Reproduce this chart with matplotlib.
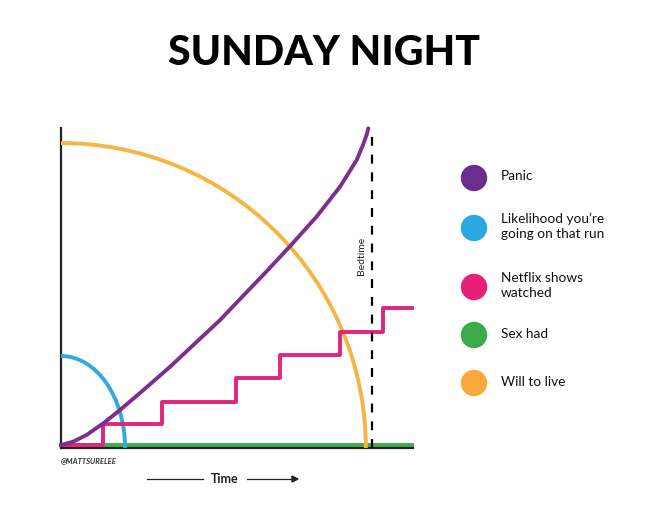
import numpy as np
import matplotlib
matplotlib.use("Agg")
import matplotlib.pyplot as plt
from matplotlib.patches import Arc, Ellipse

plt.rcParams['font.family'] = ['Lato', 'DejaVu Sans']

# dados (tempo 0..100, nivel 0..100)
panic_x = [0, 3.5, 7.3, 12.0, 16.8, 23.4, 31.0, 37.6, 45.2, 49.0, 58.4, 65.1, 72.6,
           79.3, 84.0, 85.8, 86.9, 87.3]
panic_y = [0.9, 2.0, 4.1, 7.7, 11.9, 18.1, 25.4, 32.2, 40.0, 44.4, 55.2, 63.1, 72.3,
           81.7, 90.0, 94.7, 98.1, 99.9]

netflix_x = [0, 11.8, 28.6, 49.7, 62.2, 79.3, 91.6, 99.6]
netflix_y = [0.9, 7.5, 14.5, 21.8, 29.0, 36.3, 43.7, 43.7]

sex_x = [0, 99.6]
sex_y = [0.9, 0.9]

# quartos de elipse: raio no tempo, raio no nivel
run_radius = (18.2, 28.75)
will_radius = (86.6, 95.3)

bedtime = 88.4

labels = ["Panic", "Likelihood you\u2019re\ngoing on that run", "Netflix shows\nwatched",
          "Sex had", "Will to live"]
line_colors = ["#7D2E8E", "#35A9DB", "#E0267D", "#3DAE4B", "#F6B443"]
dot_colors = ["#6B2D90", "#2AA8E0", "#E91E78", "#3AAA4A", "#F9A83E"]

fig = plt.figure(figsize=(6.5, 5.2), dpi=100)
ax = fig.add_axes([61 / 650, 72 / 520, 352 / 650, 320 / 520])
ax.set_xlim(0, 100)
ax.set_ylim(0, 100)
for s in ['top', 'right']:
    ax.spines[s].set_visible(False)
for s in ['left', 'bottom']:
    ax.spines[s].set_linewidth(1.6)
    ax.spines[s].set_color('#222222')
ax.set_xticks([])
ax.set_yticks([])

lw = 2.8
ax.plot(sex_x, sex_y, color=line_colors[3], lw=lw, clip_on=False, zorder=2)
ax.add_patch(Arc((0, 0), 2 * will_radius[0], 2 * will_radius[1], theta1=0, theta2=90,
                 color=line_colors[4], lw=lw, zorder=3))
ax.add_patch(Arc((0, 0), 2 * run_radius[0], 2 * run_radius[1], theta1=0, theta2=90,
                 color=line_colors[1], lw=lw, zorder=3))
ax.step(netflix_x, netflix_y, where='post', color=line_colors[2], lw=lw,
        clip_on=False, zorder=4)
ax.plot(panic_x, panic_y, color=line_colors[0], lw=lw, clip_on=False, zorder=5,
        solid_capstyle='round', solid_joinstyle='round')

ax.axvline(bedtime, color='black', lw=1.6, ls=(0, (4, 4)), zorder=6)
ax.text(bedtime - 2.9, 60, "Bedtime", rotation=90, ha='center', va='center',
        fontsize=7.5, color='#222222')

ax.text(0, -3, "@MATTSURELEE", fontsize=5.5, fontweight='bold', style='italic',
        ha='left', va='top', color='#333333')

fig.text(324 / 650, 1 - 53 / 520, "SUNDAY NIGHT", ha='center', va='center',
         fontsize=29.5, fontweight='black')

# eixo do tempo
fig.text(225 / 650, 1 - 479 / 520, "Time", ha='center', va='center', fontsize=9,
         fontweight='bold', color='#222222')
fig.add_artist(plt.Line2D([147 / 650, 203 / 650], [1 - 479 / 520] * 2, color='#222222',
                          lw=0.9))
fig.add_artist(plt.Line2D([247 / 650, 293 / 650], [1 - 479 / 520] * 2, color='#222222',
                          lw=0.9))
fig.add_artist(plt.Polygon([[292 / 650, 1 - 476 / 520], [298 / 650, 1 - 479 / 520],
                            [292 / 650, 1 - 482 / 520]], closed=True, color='#222222'))

# legenda
dot_y = [178, 228, 287, 335, 383]
for lab, c, yy in zip(labels, dot_colors, dot_y):
    fig.add_artist(Ellipse((474 / 650, 1 - yy / 520), 25 / 650, 25 / 520, color=c,
                           transform=fig.transFigure))
    fig.text(501 / 650, 1 - (yy - 1.5) / 520, lab, ha='left', va='center', fontsize=9.8,
             linespacing=1.3, color='#111111')

fig.savefig("out.png", dpi=100)
